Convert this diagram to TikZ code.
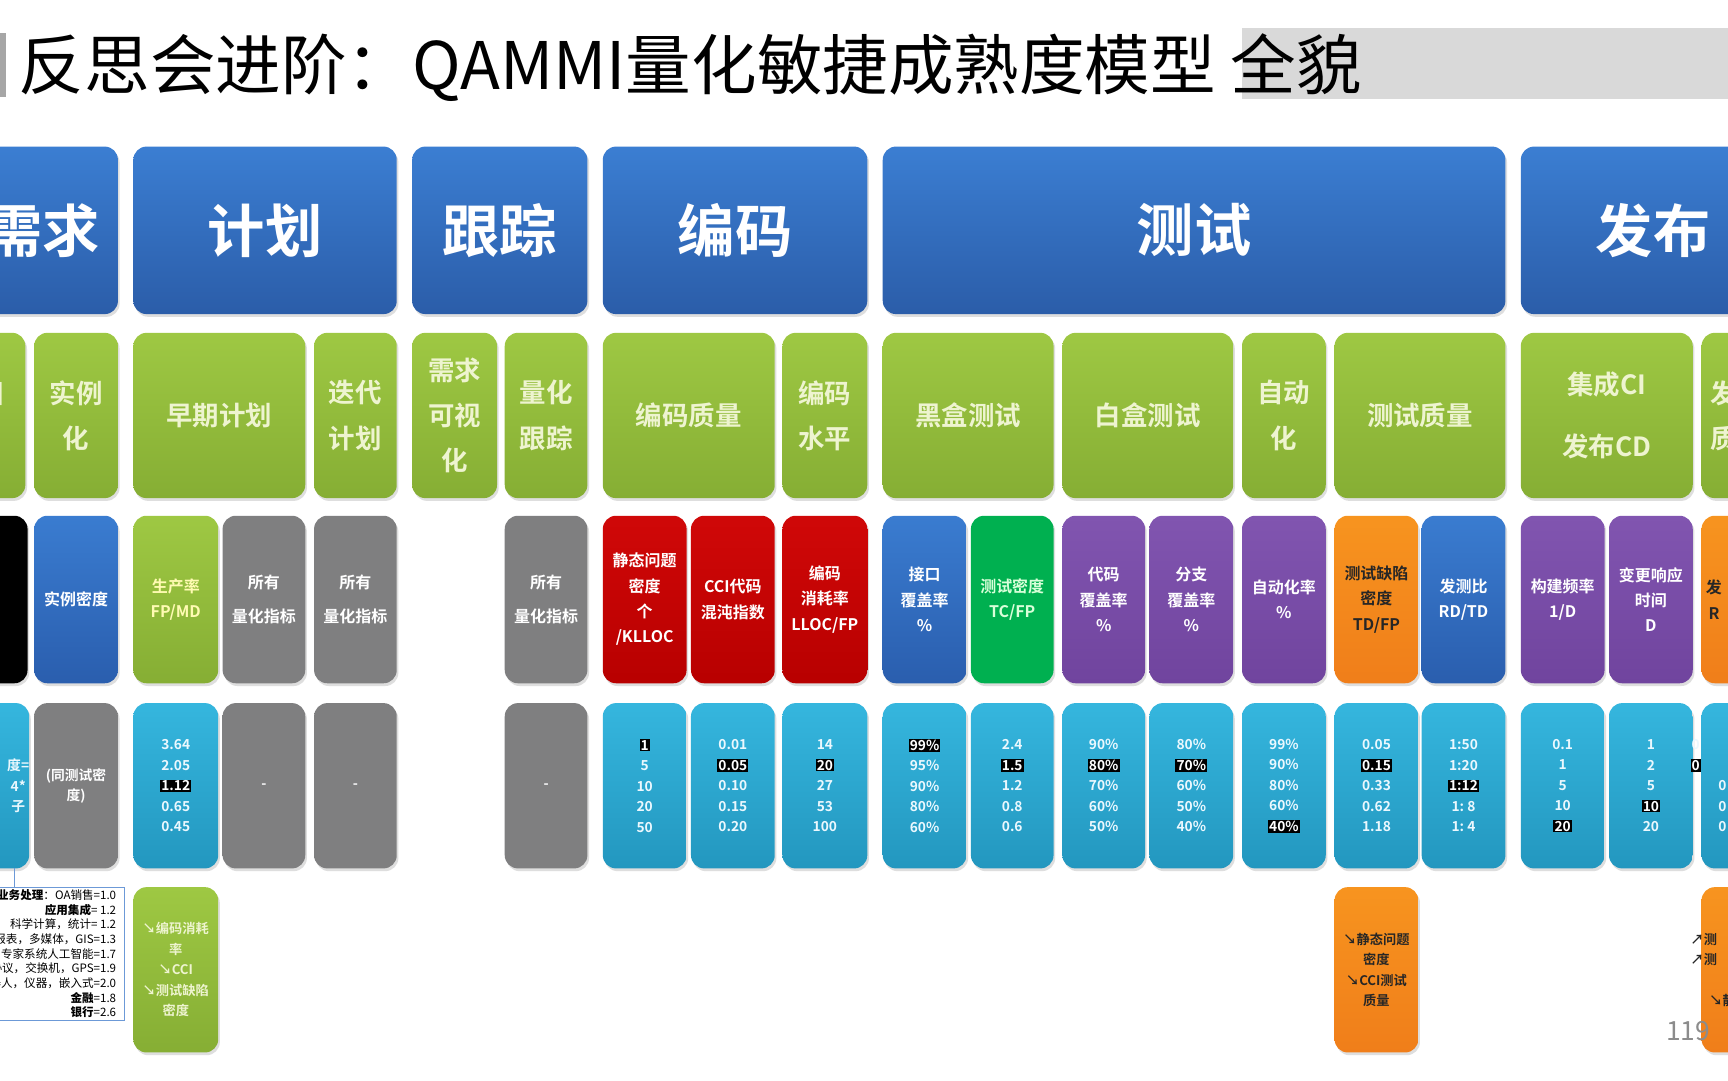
\documentclass[tikz,border=0pt]{standalone}
\usepackage{fontspec}
\setmainfont{Noto Sans CJK SC}
\newfontfamily\cjkb{Noto Sans CJK SC Bold}
\usetikzlibrary{shadows}
\definecolor{hb1}{HTML}{3B7ED2}\definecolor{hb2}{HTML}{2B5DA9}
\definecolor{gn1}{HTML}{9EC843}\definecolor{gn2}{HTML}{86AE34}
\definecolor{gy}{HTML}{7F7F80}
\definecolor{rd1}{HTML}{D00808}\definecolor{rd2}{HTML}{B80000}
\definecolor{bl1}{HTML}{3A7CD0}\definecolor{bl2}{HTML}{2A5EAE}
\definecolor{gg}{HTML}{00B050}
\definecolor{pp1}{HTML}{8155B0}\definecolor{pp2}{HTML}{70449E}
\definecolor{or1}{HTML}{F7941F}\definecolor{or2}{HTML}{F07E1A}
\definecolor{cy1}{HTML}{35B6DE}\definecolor{cy2}{HTML}{2397BF}
\definecolor{gtxt}{HTML}{EEF4D0}
\newcommand\hl[1]{{\setlength{\fboxsep}{1pt}\colorbox{black}{\color{white}#1}}}
\newcommand\bx[7]{\node[#6,minimum width={(#4-#2)*1pt},minimum height={(#5-#3)*1pt}] (#1) at ({(#2+#4)/2},{(#3+#5)/2}) {#7};}
\tikzset{
 base/.style={rounded corners=12pt,inner sep=0pt,outer sep=0pt,align=center,text=white,
   drop shadow={shadow xshift=1.5pt,shadow yshift=-2.5pt,fill=black!25,opacity=.5}},
 head/.style={base,top color=hb1,bottom color=hb2,font=\cjkb\fontsize{52}{56}\selectfont},
 sub/.style={base,top color=gn1,bottom color=gn2,text=gtxt,font=\cjkb\fontsize{24}{41}\selectfont},
 met/.style={base,font=\cjkb\fontsize{14.5}{23}\selectfont},
 mgy/.style={met,fill=gy,font=\cjkb\fontsize{14.5}{31}\selectfont},
 mrd/.style={met,top color=rd1,bottom color=rd2},
 mbl/.style={met,top color=bl1,bottom color=bl2},
 mgg/.style={met,fill=gg,text=green!15!white},
 mpp/.style={met,top color=pp1,bottom color=pp2},
 mor/.style={met,top color=or1,bottom color=or2,text=black!85},
 mgn/.style={met,top color=gn1,bottom color=gn2,text=gtxt},
 val/.style={base,top color=cy1,bottom color=cy2,text=white!92!cyan,font=\cjkb\fontsize{12.5}{18.6}\selectfont},
 vgy/.style={val,top color=gy,bottom color=gy,text=white},
 low/.style={base,font=\cjkb\fontsize{12}{18.6}\selectfont},
}
\begin{document}
\begin{tikzpicture}[x=1pt,y=-1pt]
\useasboundingbox (0,0) rectangle (1568,980);
\fill[white] (0,0) rectangle (1568,980);
% title
\fill[black!15] (1127,25) rectangle (1568,90);
\fill[black!35] (0,30) rectangle (5,88);
\node[anchor=base west,inner sep=0pt,font=\fontsize{59.5}{62}\selectfont] (title) at (17,81) {反思会进阶：QAMMI量化敏捷成熟度模型 全貌};
% row 1
\bx{h0}{-140}{133}{107}{285}{head}{\hspace*{110pt}需求}
\bx{h1}{121}{133}{360}{285}{head}{计划}
\bx{h2}{374}{133}{533}{285}{head}{跟踪}
\bx{h3}{547}{133}{787}{285}{head}{编码}
\bx{h4}{801}{133}{1366}{285}{head}{测试}
\bx{h5}{1380}{133}{1640}{285}{head}{\hspace*{-20pt}发布}
% row 2
\bx{s0}{-60}{302}{23}{452}{sub}{项目\\\mbox{}}
\bx{s1}{31}{302}{107}{452}{sub}{实例\\化}
\bx{s2}{121}{302}{277}{452}{sub}{早期计划}
\bx{s3}{285}{302}{360}{452}{sub}{迭代\\计划}
\bx{s4}{374}{302}{451}{452}{sub}{需求\\可视\\化}
\bx{s5}{458}{302}{533}{452}{sub}{量化\\跟踪}
\bx{s6}{547}{302}{703}{452}{sub}{编码质量}
\bx{s7}{710}{302}{787}{452}{sub}{编码\\水平}
\bx{s8}{801}{302}{956}{452}{sub}{黑盒测试}
\bx{s9}{964}{302}{1119}{452}{sub}{白盒测试}
\bx{s10}{1127}{302}{1203}{452}{sub}{自动\\化}
\bx{s11}{1211}{302}{1366}{452}{sub}{测试质量}
\bx{s12}{1380}{302}{1536}{452}{sub,font=\cjkb\fontsize{24}{56}\selectfont}{集成CI\\发布CD}
\bx{s13}{1544}{302}{1640}{452}{sub}{\hspace*{-40pt}发\\\hspace*{-40pt}质}
% row 3
\bx{m0}{-60}{468}{25}{620}{met,fill=black}{}
\bx{m1}{31}{468}{107}{620}{mbl}{实例密度}
\bx{m2}{121}{468}{198}{620}{mgn,text=yellow!30!white}{生产率\\FP/MD}
\bx{m3}{202}{468}{277}{620}{mgy}{所有\\量化指标}
\bx{m4}{285}{468}{360}{620}{mgy}{所有\\量化指标}
\bx{m5}{458}{468}{533}{620}{mgy}{所有\\量化指标}
\bx{m6}{547}{468}{623}{620}{mrd}{静态问题\\密度\\个\\/KLLOC}
\bx{m7}{627}{468}{703}{620}{mrd}{CCI代码\\混沌指数}
\bx{m8}{710}{468}{787}{620}{mrd}{编码\\消耗率\\LLOC/FP}
\bx{m9}{801}{468}{877}{620}{mbl}{接口\\覆盖率\\\%}
\bx{m10}{881}{468}{956}{620}{mgg}{测试密度\\TC/FP}
\bx{m11}{964}{468}{1039}{620}{mpp}{代码\\覆盖率\\\%}
\bx{m12}{1043}{468}{1119}{620}{mpp}{分支\\覆盖率\\\%}
\bx{m13}{1127}{468}{1203}{620}{mpp}{自动化率\\\%}
\bx{m14}{1211}{468}{1287}{620}{mor}{测试缺陷\\密度\\TD/FP}
\bx{m15}{1290}{468}{1366}{620}{mbl}{发测比\\RD/TD}
\bx{m16}{1380}{468}{1456}{620}{mpp}{构建频率\\1/D}
\bx{m17}{1460}{468}{1536}{620}{mpp}{变更响应\\时间\\D}
\bx{m18}{1544}{468}{1640}{620}{mor,text=black!85}{\hspace*{-44pt}发\\\hspace*{-44pt}R}
% row 4
\bx{v0}{-60}{638}{25}{788}{val}{\hspace*{68pt}度=\\\hspace*{68pt}4*\\\hspace*{68pt}子}
\bx{v1}{31}{638}{107}{788}{vgy}{(同测试密\\度)}
\bx{v2}{121}{638}{198}{788}{val}{3.64\\2.05\\\hl{1.12}\\0.65\\0.45}
\bx{v3}{202}{638}{277}{788}{vgy}{-}
\bx{v4}{285}{638}{360}{788}{vgy}{-}
\bx{v5}{458}{638}{533}{788}{vgy}{-}
\bx{v6}{547}{638}{623}{788}{val}{\hl{1}\\5\\10\\20\\50}
\bx{v7}{627}{638}{703}{788}{val}{0.01\\\hl{0.05}\\0.10\\0.15\\0.20}
\bx{v8}{710}{638}{787}{788}{val}{14\\\hl{20}\\27\\53\\100}
\bx{v9}{801}{638}{877}{788}{val}{\hl{99\%}\\95\%\\90\%\\80\%\\60\%}
\bx{v10}{881}{638}{956}{788}{val}{2.4\\\hl{1.5}\\1.2\\0.8\\0.6}
\bx{v11}{964}{638}{1039}{788}{val}{90\%\\\hl{80\%}\\70\%\\60\%\\50\%}
\bx{v12}{1043}{638}{1119}{788}{val}{80\%\\\hl{70\%}\\60\%\\50\%\\40\%}
\bx{v13}{1127}{638}{1203}{788}{val}{99\%\\90\%\\80\%\\60\%\\\hl{40\%}}
\bx{v14}{1211}{638}{1287}{788}{val}{0.05\\\hl{0.15}\\0.33\\0.62\\1.18}
\bx{v15}{1290}{638}{1366}{788}{val}{1:50\\1:20\\\hl{1:12}\\1:~8\\1:~4}
\bx{v16}{1380}{638}{1456}{788}{val}{0.1\\1\\5\\10\\\hl{20}}
\bx{v17}{1460}{638}{1536}{788}{val}{1\\2\\5\\\hl{10}\\20}
\bx{v18}{1544}{638}{1640}{788}{val}{\hspace*{-58pt}0\\\hspace*{-58pt}\hl{0}\\\hspace*{-58pt}0\\\hspace*{-58pt}0\\\hspace*{-58pt}0}
% row 5
\bx{l2}{121}{805}{198}{955}{low,top color=gn1,bottom color=gn2,text=gtxt}{↘编码消耗\\率\\↘CCI\\↘测试缺陷\\密度}
\bx{l14}{1211}{805}{1287}{955}{low,top color=or1,bottom color=or2,text=black!85}{↘静态问题\\密度\\↘CCI测试\\质量}
\bx{l18}{1544}{805}{1640}{955}{low,top color=or1,bottom color=or2,text=black!85}{\hspace*{-58pt}↗测\\\hspace*{-58pt}↗测\\\mbox{}\\\hspace*{-58pt}↘静}
% note box
\node[draw=cyan!50!blue!60,line width=0.6pt,fill=white,inner sep=2pt,align=right,anchor=north east,
  font=\fontsize{10.5}{13.3}\selectfont,minimum width=140pt] (tb) at (113,805)
 {\textbf{业务处理}：OA销售=1.0\\\textbf{应用集成}= 1.2\\科学计算，统计= 1.2\\报表，多媒体，GIS=1.3\\专家系统人工智能=1.7\\协议，交换机，GPS=1.9\\机器人，仪器，嵌入式=2.0\\\textbf{金融}=1.8\\\textbf{银行}=2.6};
\draw[cyan!50!blue!60,line width=0.6pt] ([xshift=-13pt]v0.south east) -- ([xshift=-13pt]v0.south east |- tb.north);
\node[anchor=base east,inner sep=0pt,text=black!45,font=\fontsize{24}{26}\selectfont] (pg) at (1552,944) {119};
\end{tikzpicture}
\end{document}
